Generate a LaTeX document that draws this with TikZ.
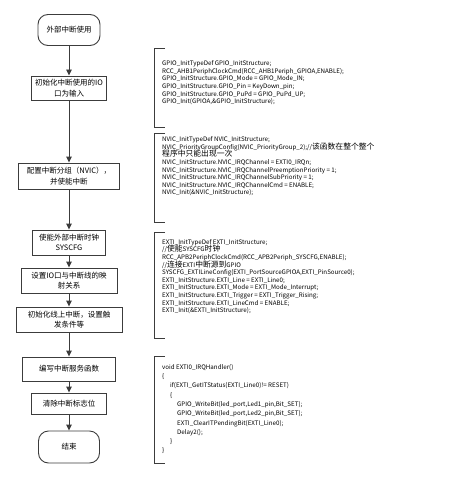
\documentclass[tikz,border=0pt]{standalone}
\usepackage{fontspec}
\setmainfont{Noto Sans CJK SC}
\usetikzlibrary{arrows.meta,positioning}
\definecolor{boxgray}{HTML}{3C3C3C}
% chinese words inside the code are set larger
\newcommand{\zh}[1]{{\fontsize{7.8}{7.6}\selectfont #1}}
\newcommand{\codefont}{\fontsize{6.2}{7.6}\selectfont\lineskiplimit=-5pt\relax}
\tikzset{
    %Define standard arrow tip
    >={Triangle[length=6pt,width=5.5pt]},
    %Define style for the start and end boxes
    terminal/.style={
		rectangle,
		rounded corners=10pt,
		draw=boxgray, line width=0.9pt,
		font=\fontsize{7.5}{10}\selectfont,
		align=center},
    %Define style for step boxes
    stepbox/.style={
		rectangle,
		draw=boxgray, line width=0.9pt,
		font=\fontsize{7.5}{10.5}\selectfont,
		align=center},
	line/.style = {
		->,
		draw=boxgray,
		line width=0.9pt},
	codetext/.style = {
		anchor=north west,
		inner sep=0pt,
		align=left,
		font=\codefont},
	bracket/.style = {
		draw=boxgray,
		line width=0.9pt}
}

\begin{document}
\begin{tikzpicture}[x=1pt, y=-1pt]
			\useasboundingbox (0,0) rectangle (474,479);
			% flow chart
			\node[terminal, minimum width=62pt, minimum height=31pt] (start) at (69,30) {外部中断使用};
			\node[stepbox, minimum width=75pt, minimum height=23pt] (init) at (69,88) {初始化中断使用的IO\\口为输入};
			\node[stepbox, minimum width=101pt, minimum height=26pt] (nvic) at (69,176) {配置中断分组（NVIC），\\并使能中断};
			\node[stepbox, minimum width=73pt, minimum height=25pt] (clock) at (69,242.5) {使能外部中断时钟\\SYSCFG};
			\node[stepbox, minimum width=96pt, minimum height=25pt] (map) at (69,280.5) {设置IO口与中断线的映\\射关系};
			\node[stepbox, minimum width=106pt, minimum height=25pt] (exti) at (69,319.5) {初始化线上中断，设置触\\发条件等};
			\node[stepbox, minimum width=93pt, minimum height=24pt] (isr) at (69,369) {编写中断服务函数};
			\node[stepbox, minimum width=75pt, minimum height=21pt] (clear) at (69,403.5) {清除中断标志位};
			\node[terminal, minimum width=61pt, minimum height=32pt] (finish) at (69,447) {结束};
			\path[line]	(start)--(init);
			\path[line]	(init)--(nvic);
			\path[line]	(nvic)--(clock);
			\path[line]	(clock)--(map);
			\path[line]	(map)--(exti);
			\path[line]	(exti)--(isr);
			\path[line]	(isr)--(clear);
			\path[line]	(clear)--(finish);
			% code
			\node[codetext] (gpiocode) at (162,60.5) {GPIO\_InitTypeDef GPIO\_InitStructure;\\
				RCC\_AHB1PeriphClockCmd(RCC\_AHB1Periph\_GPIOA,ENABLE);\\
				GPIO\_InitStructure.GPIO\_Mode = GPIO\_Mode\_IN;\\
				GPIO\_InitStructure.GPIO\_Pin = KeyDown\_pin;\\
				GPIO\_InitStructure.GPIO\_PuPd = GPIO\_PuPd\_UP;\\
				GPIO\_Init(GPIOA,\&GPIO\_InitStructure);};
			\node[codetext] (nviccode) at (162,136.5) {NVIC\_InitTypeDef NVIC\_InitStructure;\\
				NVIC\_PriorityGroupConfig(NVIC\_PriorityGroup\_2);//\zh{该函数在整个整个}\\
				\zh{程序中只能出现一次}\\
				NVIC\_InitStructure.NVIC\_IRQChannel = EXTI0\_IRQn;\\
				NVIC\_InitStructure.NVIC\_IRQChannelPreemptionPriority = 1;\\
				NVIC\_InitStructure.NVIC\_IRQChannelSubPriority = 1;\\
				NVIC\_InitStructure.NVIC\_IRQChannelCmd = ENABLE;\\
				NVIC\_Init(\&NVIC\_InitStructure);};
			\node[codetext] (exticode) at (162,239) {EXTI\_InitTypeDef EXTI\_InitStructure;\\
				//\zh{使能}SYSCFG\zh{时钟}\\
				RCC\_APB2PeriphClockCmd(RCC\_APB2Periph\_SYSCFG,ENABLE);\\
				//\zh{连接}EXTI\zh{中断源到}GPIO\\
				SYSCFG\_EXTILineConfig(EXTI\_PortSourceGPIOA,EXTI\_PinSource0);\\
				EXTI\_InitStructure.EXTI\_Line = EXTI\_Line0;\\
				EXTI\_InitStructure.EXTI\_Mode = EXTI\_Mode\_Interrupt;\\
				EXTI\_InitStructure.EXTI\_Trigger = EXTI\_Trigger\_Rising;\\
				EXTI\_InitStructure.EXTI\_LineCmd = ENABLE;\\
				EXTI\_Init(\&EXTI\_InitStructure);};
			\node[codetext, font=\fontsize{6.2}{9.3}\selectfont] (isrcode) at (162,364) {void EXTI0\_IRQHandler()\\
				\{\\
				\hspace{8pt}if(EXTI\_GetITStatus(EXTI\_Line0)!= RESET)\\
				\hspace{8pt}\{\\
				\hspace{15pt}GPIO\_WriteBit(led\_port,Led1\_pin,Bit\_SET);\\
				\hspace{15pt}GPIO\_WriteBit(led\_port,Led2\_pin,Bit\_SET);\\
				\hspace{15pt}EXTI\_ClearITPendingBit(EXTI\_Line0);\\
				\hspace{15pt}Delay2();\\
				\hspace{8pt}\}\\
				\}};
			% brackets
			\draw[bracket] (165,48) -- (154,48) -- (154,127) -- (165,127);
			\draw[bracket] (165,133) -- (154,133) -- (154,222) -- (165,222);
			\draw[bracket] (165,232) -- (154,232) -- (154,338) -- (165,338);
			\draw[bracket] (165,356) -- (154,356) -- (154,463) -- (165,463);
		\end{tikzpicture}
\end{document}
